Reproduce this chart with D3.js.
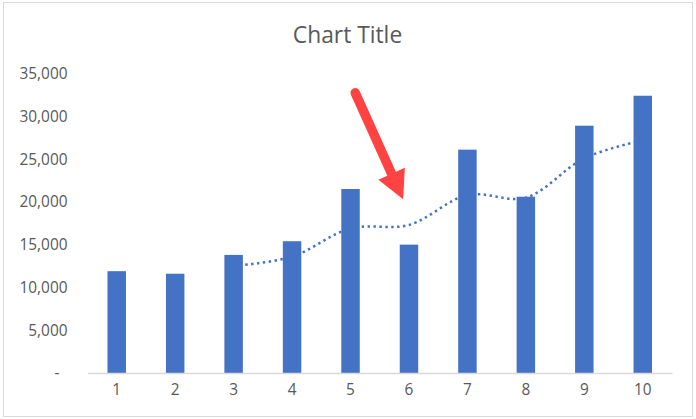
<!DOCTYPE html>
<html lang="en">
<head>
    <meta charset="UTF-8">
    <title>Chart Title</title>
    <script src="https://d3js.org/d3.v7.min.js"></script>
    <style>
        body { margin: 0; background: #fff; }
        text { font-family: "Open Sans", "Liberation Sans", sans-serif; fill: #595959; }
    </style>
</head>
<body>
    <svg id="chart" width="696" height="419"></svg>

    <script>
        // Data
        const categories = [1, 2, 3, 4, 5, 6, 7, 8, 9, 10];
        const values = [11900, 11600, 13800, 15400, 21500, 15000, 26100, 20600, 28900, 32400];
        // dotted trend line (moving average shown in the original), null where absent
        const trendValues = [null, null, 12500, 13600, 16900, 17300, 20800, 20500, 25100, 27200];
        const yTicks = [0, 5000, 10000, 15000, 20000, 25000, 30000, 35000];
        const yTickLabels = ["-", "5,000", "10,000", "15,000", "20,000", "25,000", "30,000", "35,000"];
        // annotation arrow, in category / value units
        const arrowFrom = {cat: 5.08, value: 32750};
        const arrowTo = {cat: 5.9, value: 20300};

        const width = 696, height = 419;
        const margin = {top: 73.5, right: 24, bottom: 46, left: 87.5};
        const plotW = width - margin.left - margin.right;
        const plotH = height - margin.top - margin.bottom;

        const svg = d3.select("#chart");

        // Chart border
        svg.append("rect")
            .attr("x", 3.5)
            .attr("y", 2.5)
            .attr("width", 689)
            .attr("height", 414)
            .attr("fill", "none")
            .attr("stroke", "#d9d9d9")
            .attr("stroke-width", 1);

        // Title
        svg.append("text")
            .attr("x", 347.5)
            .attr("y", 43)
            .attr("text-anchor", "middle")
            .attr("font-size", "22.8px")
            .text("Chart Title");

        const g = svg.append("g")
            .attr("transform", `translate(${margin.left},${margin.top})`);

        const x = d3.scaleBand()
            .domain(categories)
            .range([0, plotW])
            .paddingInner(0.684)
            .paddingOuter(0.342);

        const y = d3.scaleLinear()
            .domain([0, 35000])
            .range([plotH, 0]);

        const step = x.step();
        const cx = c => x(categories[0]) + x.bandwidth() / 2 + (c - categories[0]) * step;

        // Y tick labels
        const yAxis = g.append("g")
            .call(d3.axisLeft(y).tickValues(yTicks).tickSize(0).tickPadding(20)
                .tickFormat((d, i) => yTickLabels[i]));
        yAxis.select(".domain").remove();
        yAxis.selectAll("text")
            .attr("font-size", "15.4px")
            .attr("fill", "#595959")
            .attr("font-family", "'Open Sans', 'Liberation Sans', sans-serif")
            .attr("dx", (d) => d === 0 ? -8 : 0);

        // Trend line (drawn under the bars)
        const trendPts = categories
            .map((c, i) => ({c, v: trendValues[i]}))
            .filter(d => d.v !== null);

        const line = d3.line()
            .x(d => cx(d.c))
            .y(d => y(d.v))
            .curve(d3.curveCatmullRom.alpha(0.5));

        g.append("path")
            .datum(trendPts)
            .attr("d", line)
            .attr("fill", "none")
            .attr("stroke", "#4472c4")
            .attr("stroke-width", 2.5)
            .attr("stroke-dasharray", "2.4 3.5");

        // Bars
        g.selectAll(".bar")
            .data(values)
            .join("rect")
            .attr("class", "bar")
            .attr("x", (d, i) => x(categories[i]))
            .attr("y", d => y(d))
            .attr("width", x.bandwidth())
            .attr("height", d => plotH - y(d))
            .attr("fill", "#4472c4");

        // X axis
        const xAxis = g.append("g")
            .attr("transform", `translate(0,${plotH})`)
            .call(d3.axisBottom(x).tickSize(0).tickPadding(11));
        xAxis.select(".domain")
            .attr("stroke", "#d9d9d9")
            .attr("stroke-width", 1.3);
        xAxis.selectAll("text")
            .attr("font-size", "15.4px")
            .attr("fill", "#595959")
            .attr("font-family", "'Open Sans', 'Liberation Sans', sans-serif");

        // Red annotation arrow
        const x0 = cx(arrowFrom.cat), y0 = y(arrowFrom.value);
        const x1 = cx(arrowTo.cat), y1 = y(arrowTo.value);
        const len = Math.hypot(x1 - x0, y1 - y0);
        const ux = (x1 - x0) / len, uy = (y1 - y0) / len;
        const headLen = 28, headHalf = 14.5;
        const bx = x1 - ux * headLen, by = y1 - uy * headLen;

        g.append("line")
            .attr("x1", x0)
            .attr("y1", y0)
            .attr("x2", bx + ux * 2)
            .attr("y2", by + uy * 2)
            .attr("stroke", "#ff4343")
            .attr("stroke-width", 9.5)
            .attr("stroke-linecap", "round");

        g.append("path")
            .attr("d", `M${x1},${y1} L${bx - uy * headHalf},${by + ux * headHalf} L${bx + uy * headHalf},${by - ux * headHalf} Z`)
            .attr("fill", "#ff4343");
    </script>
</body>
</html>
